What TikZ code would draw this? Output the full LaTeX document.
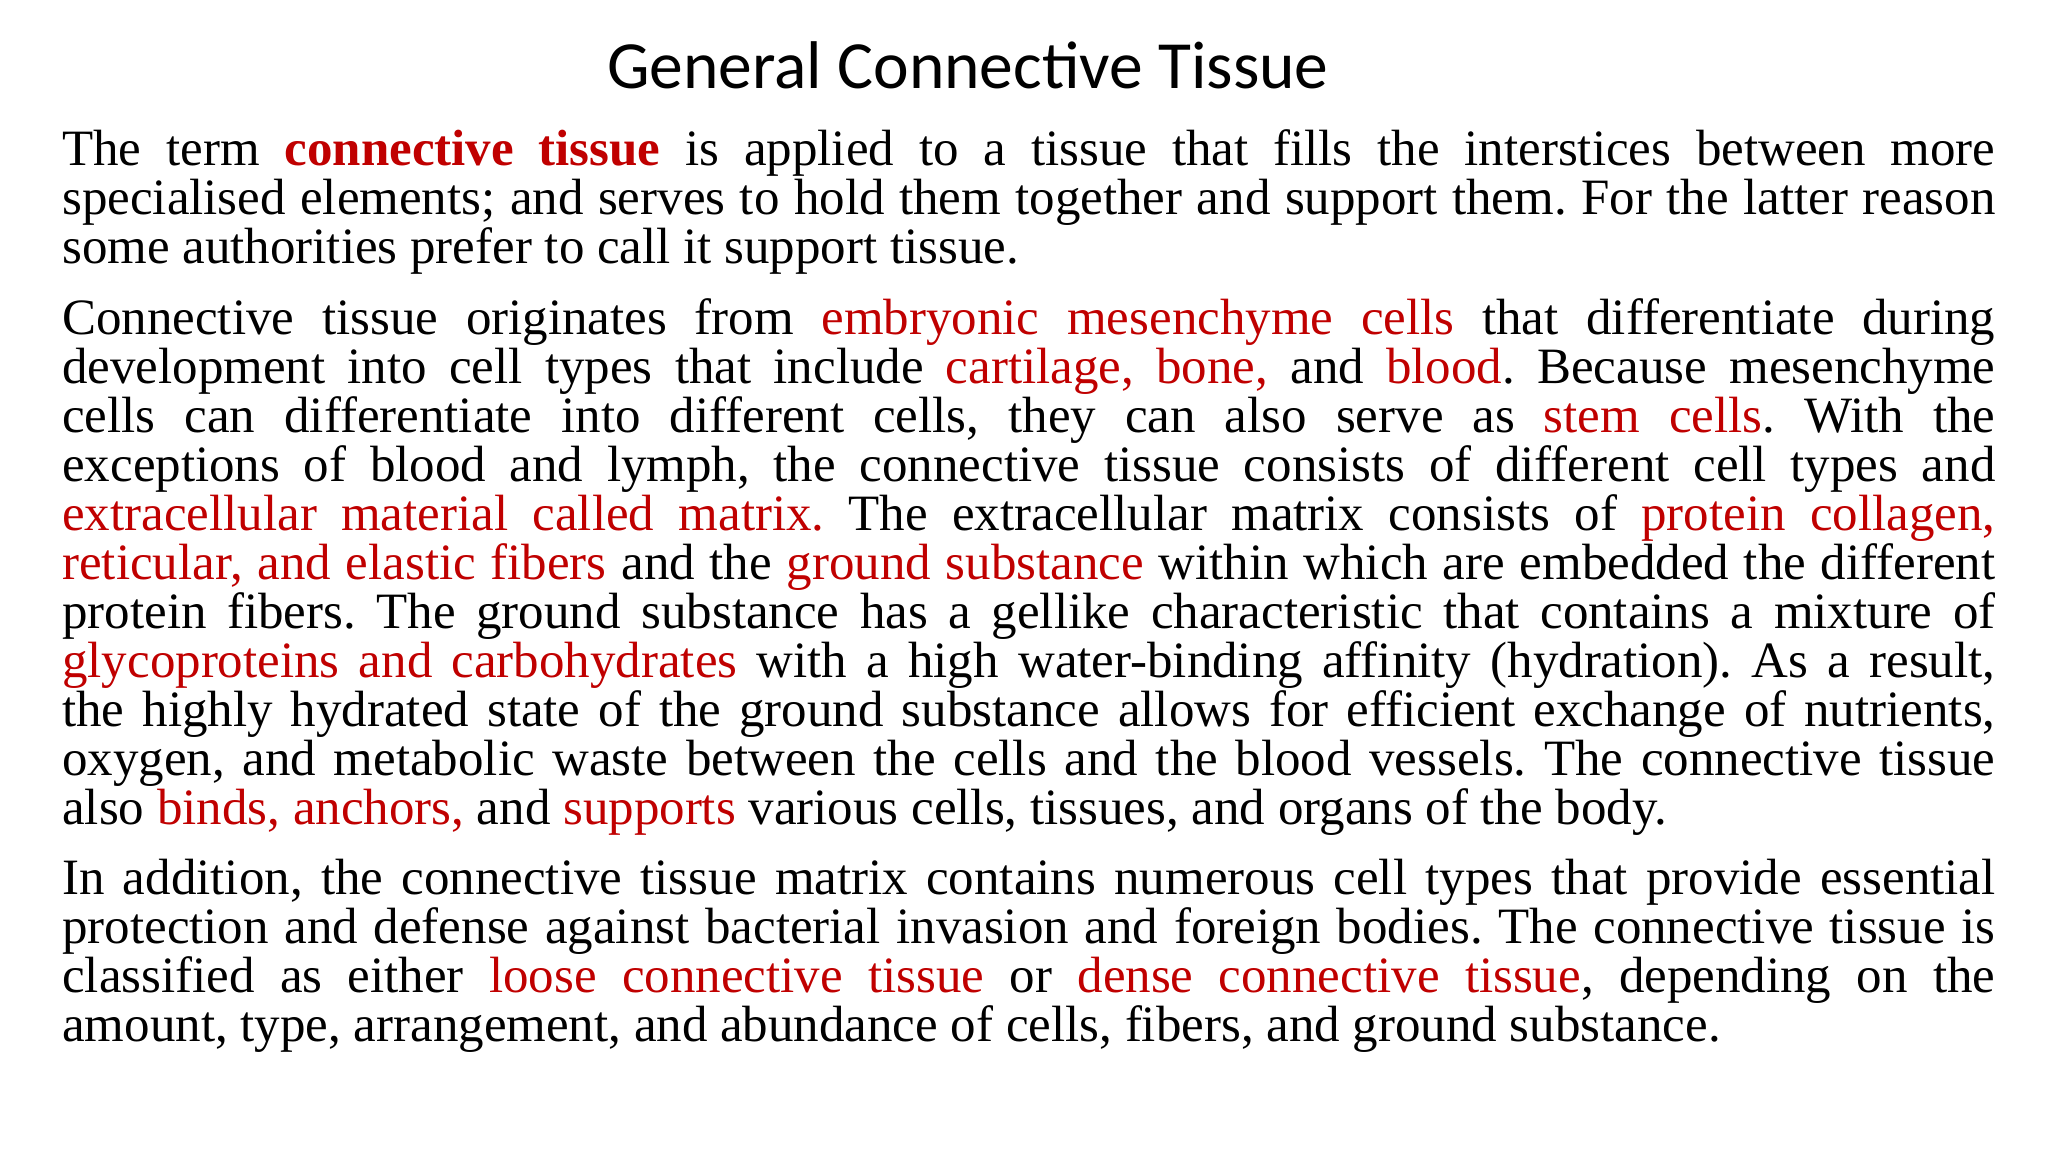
\documentclass[tikz,border=0pt]{standalone}
\usepackage{fontspec}
\setmainfont{Liberation Serif}
\newfontfamily\titlefont{Carlito}
\definecolor{hl}{HTML}{C00000}
\newcommand{\rd}[1]{\textcolor{hl}{#1}}
\frenchspacing
\tikzset{para/.style={anchor=base west,inner sep=0pt,text width=14.8cm,align=justify,font=\fontsize{11.1pt}{10.67pt}\selectfont}}
\begin{document}
\begin{tikzpicture}[x=1cm,y=-1cm]
\useasboundingbox[fill=white] (0,0) rectangle (15.68,8.82);
\node[anchor=base,inner sep=0pt,font=\titlefont\fontsize{14.7pt}{16pt}\selectfont] (title) at (7.41,0.68) {General Connective Tissue};
\node[para] (p1) at (0.47,1.27) {The term \textbf{\rd{connective tissue}} is applied to a tissue that fills the interstices between more\linebreak specialised elements; and serves to hold them together and support them. For the latter reason\linebreak some authorities prefer to call it support tissue.};
\node[para] (p2) at (0.47,2.56) {Connective tissue originates from \rd{embryonic mesenchyme cells} that differentiate during\linebreak development into cell types that include \rd{cartilage, bone,} and \rd{blood}. Because mesenchyme\linebreak cells can differentiate into different cells, they can also serve as \rd{stem cells}. With the\linebreak exceptions of blood and lymph, the connective tissue consists of different cell types and\linebreak \rd{extracellular material called matrix.} The extracellular matrix consists of \rd{protein collagen,}\linebreak \rd{reticular, and elastic fibers} and the \rd{ground substance} within which are embedded the different\linebreak protein fibers. The ground substance has a gellike characteristic that contains a mixture of\linebreak \rd{glycoproteins and carbohydrates} with a high water-binding affinity (hydration). As a result,\linebreak the highly hydrated state of the ground substance allows for efficient exchange of nutrients,\linebreak oxygen, and metabolic waste between the cells and the blood vessels. The connective tissue\linebreak also \rd{binds, anchors,} and \rd{supports} various cells, tissues, and organs of the body.};
\node[para] (p3) at (0.47,6.85) {In addition, the connective tissue matrix contains numerous cell types that provide essential\linebreak protection and defense against bacterial invasion and foreign bodies. The connective tissue is\linebreak classified as either \rd{loose connective tissue} or \rd{dense connective tissue}, depending on the\linebreak amount, type, arrangement, and abundance of cells, fibers, and ground substance.};
\end{tikzpicture}
\end{document}
